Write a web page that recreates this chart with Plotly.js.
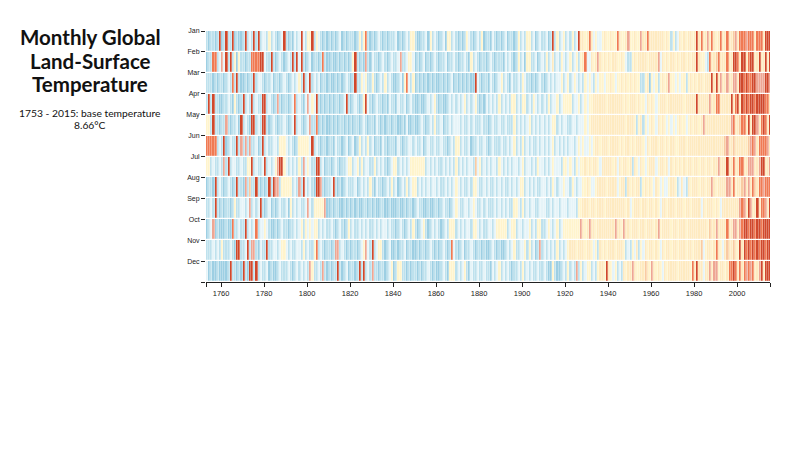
<!DOCTYPE html>
<html><head><meta charset="utf-8">
<script src="https://cdn.plot.ly/plotly-3.0.1.min.js"></script>
<style>html,body{margin:0;padding:0;background:#fff}#c{width:800px;height:450px}</style></head>
<body><div id="c"></div>
<script>
const months=["Jan","Feb","Mar","Apr","May","Jun","Jul","Aug","Sep","Oct","Nov","Dec"];
const firstYear=1753, lastYear=2015;
const xTickYears=[1760,1780,1800,1820,1840,1860,1880,1900,1920,1940,1960,1980,2000];
// colour class read from each cell: 0 coolest ... 8 warmest
const jan=[1,0,1,1,0,1,8, 0,1,8,1,1,8,0,1,0,0, 1,8,1,2,1,8,1,8,1,2, 2,1,3,1,2,1,0,1,2,8, 1,0,1,0,2,1,2,8,2,1, 3,3,8,1,3,2,1,0,1,0, 1,0,1,0,1,2,0,1,0,1, 1,1,0,1,3,1,3,7,1,0, 1,0,1,2,1,0,1,0,1,1, 1,2,0,1,0,1,2,1,3,3, 1,0,0,1,1,2,0,3,1,2, 1,0,1,2,0,3,3,1,2,1, 0,1,0,1,3,2,1,0,1,2, 1,3,0,1,1,0,2,1,0,1, 0,1,2,0,1,1,0,1,3,1, 2,1,3,3,1,2,0,1,2,1, 1,2,0,1,8,1,3,1,2,3, 1,2,1,3,1,2,8,4,4,3, 4,7,4,2,3,2,2,3,4,3, 3,4,3,3,7,4,3,3,4,6, 3,3,4,3,3,6,4,4,7,4, 4,4,4,4,4,4,3,4,3,1, 3,1,2,4,3,4,3,4,4,3, 4,8,4,7,4,4,6,4,7,4, 3,4,7,4,4,7,4,4,5,6, 4,7,7,7,6,7,7,7,4,7, 7,7,4,8,8,8];
const feb=[0,1,1,7,7,1,2, 6,2,8,1,8,1,3,0,3,1, 1,0,1,1,7,7,7,7,8,8, 2,1,1,8,1,0,1,2,1,0, 1,2,1,8,1,8,2,8,1,0, 1,2,0,1,1,0,1,7,1,0, 0,1,0,0,1,0,1,0,1,0, 1,3,8,1,0,1,0,6,1,0, 2,1,1,0,1,2,1,0,1,2, 1,1,2,6,1,1,2,3,3,2, 0,1,0,1,2,0,1,0,1,2, 1,0,1,1,2,0,1,1,2,1, 0,1,1,2,1,0,3,1,2,1, 0,1,1,0,1,2,1,0,1,1, 1,0,2,1,2,1,0,1,3,1, 2,0,3,3,1,1,2,0,1,2, 1,3,1,2,4,1,2,1,3,2, 1,2,3,1,2,3,1,3,4,7, 2,2,4,3,4,6,4,3,4,3, 4,3,4,4,3,3,4,3,2,1, 1,3,4,3,4,4,4,4,3,4, 4,4,4,6,2,4,3,4,3,4, 4,3,4,3,4,4,3,4,3,4, 4,8,4,3,3,2,1,7,4,4, 5,7,4,4,4,7,4,4,8,8, 7,4,8,8,4,7,8,8,4,4, 8,4,4,8,4,8];
const mar=[1,1,1,0,1,0,1, 1,0,1,2,1,7,1,8,1,0, 0,1,0,1,1,8,1,2,2,1, 0,1,1,2,0,1,1,0,1,2, 1,0,1,2,1,2,3,1,8,1, 2,8,1,2,1,2,0,1,1,0, 1,0,0,1,0,1,0,1,2,1, 0,1,8,1,1,3,2,3,1,1, 3,1,0,1,2,1,3,1,2,1, 0,0,1,2,0,3,7,2,1,3, 0,1,0,1,0,1,0,1,0,1, 0,0,1,0,1,0,1,2,0,1, 0,1,0,1,0,1,0,0,8,2, 1,0,1,1,0,2,1,0,1,2, 3,1,2,1,0,2,1,1,2,1, 3,2,1,1,0,1,0,1,2,1, 0,1,2,1,2,1,2,2,3,1, 2,3,1,2,3,2,1,2,1,3, 2,3,2,1,3,2,3,3,2,3, 3,4,3,2,3,3,4,3,4,3, 4,3,4,3,3,1,1,3,4,0, 3,2,3,1,3,4,3,4,6,3, 3,2,3,2,3,3,1,3,4,3, 4,3,4,4,3,4,4,4,8,4, 8,4,6,4,4,6,4,4,6,6, 4,8,8,7,8,7,7,8,8,6, 6,6,6,8,8,6];
const apr=[1,8,1,8,1,1,0, 0,1,1,2,1,0,3,1,0,1, 8,1,2,1,8,1,2,1,1,8, 8,1,2,1,0,1,6,1,0,1, 1,0,1,2,7,1,2,1,0,2, 6,2,3,2,8,1,0,1,0,1, 0,1,0,1,1,0,1,2,8,1, 0,1,2,1,0,1,3,8,2,1, 0,1,2,1,1,0,1,0,2,1, 1,0,2,1,1,2,0,1,2,1, 0,0,1,0,0,1,2,1,2,3, 1,0,1,0,0,1,2,1,2,1, 2,1,2,3,1,2,1,2,3,1, 0,1,0,2,1,2,1,2,1,3, 1,2,1,2,1,3,3,1,2,1, 3,3,1,2,1,3,2,1,2,1, 2,1,3,1,2,2,3,1,2,3, 3,3,3,1,2,2,3,1,2,3, 2,3,3,4,4,4,4,4,4,3, 4,4,4,4,4,4,4,3,4,3, 4,4,4,3,4,3,3,2,4,3, 4,3,2,3,4,4,4,3,4,4, 4,4,4,4,4,3,4,4,4,4, 4,8,4,4,4,4,4,6,4,4, 7,7,4,4,4,4,4,8,4,7, 8,4,8,7,8,7,8,8,7,8, 8,8,8,7,7,4];
const may=[3,3,1,8,1,1,0, 1,1,6,1,0,1,1,2,0,8, 1,2,1,0,8,8,1,2,1,8, 8,1,0,1,2,1,0,1,1,2, 1,0,1,2,8,1,2,1,0,1, 2,6,1,1,7,0,1,0,1,0, 0,1,0,1,0,1,1,0,1,0, 1,0,1,1,0,1,2,1,0,1, 1,0,2,1,0,1,0,1,1,0, 1,1,0,0,1,0,2,0,0,1, 0,0,1,2,1,0,1,2,1,3, 1,1,2,0,1,1,2,1,2,2, 2,1,2,1,1,2,1,2,1,1, 1,2,1,1,0,1,2,1,1,2, 1,1,2,1,1,1,3,1,2,1, 2,1,2,3,1,2,1,2,1,2, 1,2,1,2,3,3,1,2,1,2, 2,1,1,2,2,1,2,2,2,3, 2,3,4,4,4,4,4,4,4,4, 4,4,4,4,4,4,4,4,3,4, 4,4,3,1,3,4,1,3,2,3, 4,3,2,4,3,4,3,2,3,2, 3,2,3,4,3,3,2,3,4,3, 4,4,3,4,6,4,4,4,4,4, 4,4,4,4,4,4,4,6,7,4, 4,5,7,7,4,8,4,8,8,6, 4,7,8,7,4,8];
const jun=[7,7,7,7,7,1,2, 1,8,0,1,2,1,1,8,1,6, 1,6,1,6,1,1,2,0,1,8, 1,2,1,1,2,2,1,3,3,3, 2,1,2,1,0,1,3,3,3,3, 3,2,8,1,2,1,0,1,1,0, 1,1,0,2,1,1,0,1,2,0, 1,2,0,1,3,1,2,1,3,1, 2,0,1,1,0,2,1,0,1,1, 1,0,2,1,0,1,1,2,2,1, 2,1,1,2,0,1,2,1,1,2, 1,1,2,1,1,0,1,2,1,3, 3,1,2,1,1,2,0,1,1,2, 1,1,2,1,0,1,2,1,1,1, 2,1,1,2,1,2,3,1,2,1, 3,1,2,1,2,1,1,2,1,2, 1,2,1,2,3,1,2,1,2,1, 2,1,2,2,1,2,3,2,3,2, 2,3,2,3,4,4,3,4,4,4, 3,4,4,4,4,3,4,3,4,4, 3,4,3,4,4,4,3,2,4,3, 4,4,4,3,4,4,3,4,3,4, 4,3,3,4,4,4,3,4,4,4, 4,4,4,4,4,4,4,4,4,4, 4,4,4,4,5,6,4,4,5,4, 4,4,4,4,4,5,6,7,6,4, 7,7,7,7,6,4];
const jul=[3,3,1,2,1,1,2, 1,6,1,8,1,2,2,1,1,2, 1,1,3,3,8,1,2,1,1,2, 8,1,2,1,2,3,6,8,8,3, 2,1,2,1,2,1,3,1,6,2, 3,2,1,1,8,8,1,2,0,1, 1,0,1,2,1,0,1,1,2,3, 3,1,2,3,1,3,1,2,2,1, 1,3,1,2,1,2,1,0,1,2, 3,3,1,2,1,2,1,2,3,3, 3,3,3,3,3,1,2,1,2,1, 2,1,1,2,1,2,1,2,1,3, 1,2,1,2,1,2,2,1,5,2, 3,1,2,1,2,1,2,2,1,3, 2,1,2,1,2,1,2,2,1,2, 3,1,2,2,1,2,1,3,2,2, 1,2,1,2,3,2,2,2,1,3, 3,2,3,2,1,3,2,3,3,4, 3,4,3,4,4,3,2,4,4,4, 4,4,3,4,2,4,3,4,4,3, 4,1,4,3,2,4,3,2,3,4, 4,4,2,3,4,4,3,4,2,4, 3,4,3,4,3,4,3,4,4,3, 4,4,3,4,4,3,4,4,3,4, 4,6,4,4,4,8,4,4,7,4, 4,7,7,4,4,6,6,6,4,4, 6,8,8,4,4,6];
const aug=[0,1,1,0,8,1,2, 1,0,1,2,1,0,1,8,1,1, 0,6,1,5,1,1,8,1,0,1, 0,1,8,1,8,6,6,1,3,3, 3,3,3,1,2,1,6,1,8,2, 1,2,1,0,8,8,6,1,0,1, 1,2,8,1,0,1,0,1,2,1, 1,1,2,0,1,2,1,2,1,3, 1,0,2,1,1,0,1,2,1,3, 1,2,0,1,2,1,3,1,2,3, 3,1,2,1,2,1,2,1,2,2, 1,2,1,1,2,1,2,1,2,3, 2,1,2,1,1,2,1,3,3,2, 1,1,2,1,2,1,1,2,1,2, 1,2,1,1,2,1,2,1,2,3, 3,1,2,1,2,1,2,1,1,2, 2,1,2,1,3,2,1,2,2,3, 2,2,1,3,2,1,2,2,3,3, 4,3,2,2,3,4,4,4,4,3, 4,4,4,4,2,3,4,4,1,4, 3,4,3,4,4,1,3,4,3,4, 3,2,4,3,2,3,2,2,3,4, 4,3,1,2,4,2,1,4,3,4, 4,4,3,4,4,3,4,4,6,4, 3,4,4,4,4,6,6,4,7,3, 4,4,5,6,4,6,4,7,5,4, 7,7,6,7,7,7];
const sep=[1,1,2,1,8,1,0, 1,0,1,1,0,1,3,1,1,2, 2,1,2,6,1,2,1,2,8,1, 0,1,2,0,1,0,1,2,1,1, 2,0,3,1,2,1,2,1,1,2, 6,2,1,3,3,3,3,3,6,0, 0,1,0,1,1,0,0,1,0,1, 0,1,0,1,0,0,1,1,0,1, 0,1,0,0,1,1,0,0,1,0, 0,0,1,0,0,1,0,1,1,0, 1,2,1,1,0,0,1,0,0,1, 1,0,1,2,1,1,0,1,2,3, 2,1,1,2,2,1,2,3,2,1, 1,2,1,2,1,1,1,2,1,2, 1,2,1,2,1,1,3,3,2,1, 3,1,2,1,2,2,1,1,2,2, 2,1,1,2,1,2,2,1,2,2, 2,1,2,2,2,1,3,3,4,4, 4,3,4,4,3,4,4,4,3,4, 4,4,4,4,4,4,4,4,3,4, 2,3,4,4,4,3,4,4,3,4, 4,3,4,3,2,4,4,3,4,4, 4,3,4,4,4,3,4,4,3,4, 4,4,4,2,4,3,4,4,4,3, 4,3,2,4,4,4,4,4,4,4, 4,6,7,6,4,8,6,4,4,8, 4,7,7,6,4,8];
const oct=[0,1,2,6,0,1,0, 0,0,1,0,0,7,1,1,2,1, 1,8,1,2,1,2,7,1,2,2, 3,2,1,0,0,1,0,1,2,1, 1,0,1,1,2,1,2,3,1,3, 2,3,2,3,3,1,2,1,2,1, 1,2,1,0,1,2,1,0,1,3, 1,2,1,1,2,1,2,1,2,1, 1,2,1,2,1,2,2,1,2,1, 1,0,1,2,1,0,1,2,1,3, 1,0,1,2,3,1,0,1,2,1, 2,1,0,1,2,1,3,3,3,1, 2,1,2,1,2,2,1,3,3,2, 1,2,1,1,2,2,1,2,3,3, 3,3,3,1,2,3,3,1,2,2, 1,2,2,3,1,2,1,3,3,1, 1,2,3,2,1,2,3,1,2,3, 3,3,3,3,3,3,3,6,4,3, 4,6,4,4,3,4,4,4,4,4, 4,4,4,6,4,4,3,6,4,4, 3,4,4,4,3,4,4,3,4,4, 4,3,4,6,3,4,4,4,4,3, 4,4,3,4,4,4,3,4,4,4, 4,4,4,4,4,4,3,5,4,4, 6,4,4,4,4,7,4,4,6,6, 4,6,7,8,8,7,8,8,7,8, 8,7,8,8,8,8];
const nov=[1,1,1,2,1,2,1, 3,1,1,1,2,1,0,8,8,1, 1,2,8,1,6,6,1,0,2,1, 1,8,1,1,2,2,1,2,3,3, 2,1,2,1,1,2,2,1,3,1, 2,1,1,3,7,1,2,1,0,1, 1,0,1,6,6,1,2,1,0,1, 0,1,1,0,1,2,3,6,2,1, 8,1,2,3,3,1,0,1,2,0, 0,1,0,1,1,2,0,1,1,0, 0,1,0,1,1,0,1,2,1,0, 1,0,1,2,1,0,1,7,2,1, 0,1,2,0,1,1,2,1,0,1, 1,0,1,0,0,1,2,1,0,1, 0,0,1,2,1,2,3,1,1,2, 2,3,1,3,1,2,0,1,6,1, 2,1,2,1,2,1,3,1,2,1, 2,3,4,4,4,3,4,4,4,3, 4,4,3,2,3,1,4,3,4,3, 4,4,4,3,4,4,4,3,1,2, 1,3,2,4,1,3,2,4,3,4, 4,3,4,3,2,4,3,4,4,3, 4,4,3,4,4,4,3,4,4,3, 4,4,4,5,2,3,4,4,3,4, 7,4,3,2,4,5,4,4,5,4, 3,8,4,8,7,8,7,8,7,8, 7,8,8,7,8,8];
const dec=[2,0,1,0,0,1,0, 0,0,0,1,8,1,1,0,1,0, 8,1,0,8,8,1,8,1,2,1, 1,2,0,1,0,0,1,2,1,1, 1,2,1,0,1,2,1,2,1,2, 1,6,3,1,1,2,1,6,1,0, 1,0,1,1,8,1,0,1,2,0, 1,1,0,1,8,1,8,1,2,1, 6,1,1,0,1,1,0,1,2,3, 0,1,3,3,1,1,0,1,0,1, 1,0,1,0,1,1,2,1,0,1, 0,0,1,2,1,0,3,3,3,1, 2,1,2,3,1,0,2,1,1,2, 1,1,2,1,1,0,2,1,2,3, 1,2,1,2,1,0,1,1,2,1, 3,1,2,1,2,1,1,2,1,1, 2,1,0,0,3,1,0,0,1,2, 1,3,1,2,1,6,1,3,1,2, 3,3,1,2,1,3,4,4,3,8, 4,3,2,3,1,2,1,4,3,4, 4,6,4,3,3,4,4,5,4,3, 6,4,3,4,3,2,4,3,4,4, 4,4,3,4,4,4,4,4,3,7, 4,8,4,4,2,4,4,6,4,6, 6,3,4,4,3,4,7,7,8,7, 4,7,4,7,6,7,6,7,4,4, 6,8,4,8,8,8];
const palette=["#9dcfe3","#bee1ed","#e6f4f8","#fff4cc","#feeac0","#f9cba2","#eea693","#f07a53","#d0482c"];

const rows=[jan,feb,mar,apr,may,jun,jul,aug,sep,oct,nov,dec];
const years=jan.map((_,i)=>firstYear+i+0.5);
const n=palette.length;
const colorscale=[];
palette.forEach((c,i)=>{colorscale.push([i/n,c]);colorscale.push([(i+1)/n,c]);});
const F='"Liberation Sans",Arial,sans-serif';
const T='Lato,"Open Sans",sans-serif';
function note(text,y,size,weight){
  return {text:text,xref:'paper',yref:'paper',x:(90-206)/(770-206),xanchor:'center',
    y:(282-y)/(282-31),yanchor:'middle',showarrow:false,align:'center',
    font:{family:T,size:size,color:'#111',weight:weight||400}};
}
Plotly.newPlot('c',[{
  type:'heatmap',x:years,y:months.map((_,i)=>i+0.5),z:rows,
  zmin:0,zmax:n,colorscale:colorscale,showscale:false,xgap:0.3,ygap:1.2,hoverongaps:false
}],{
  width:800,height:450,paper_bgcolor:'#fff',plot_bgcolor:'#fff',
  margin:{l:206,r:30,t:31,b:168},
  showlegend:false,
  xaxis:{range:[firstYear,lastYear+0.3],tickmode:'array',
    tickvals:[firstYear].concat(xTickYears,[lastYear+0.3]),
    ticktext:[''].concat(xTickYears.map(String),['']),
    ticks:'outside',ticklen:4,tickwidth:1,tickcolor:'#222',showgrid:false,zeroline:false,
    showline:true,linecolor:'#222',linewidth:1,tickfont:{family:F,size:7.5,color:'#222'}},
  yaxis:{range:[12,0],tickmode:'array',tickvals:months.map((_,i)=>i).concat([12]),
    ticktext:months.concat(['']),ticks:'outside',ticklen:4,tickwidth:1,tickcolor:'#222',
    showgrid:false,zeroline:false,showline:false,tickfont:{family:F,size:7,color:'#222'}},
  annotations:[
    note('Monthly Global',37,20.5,700),note('Land-Surface',61,20.5,700),note('Temperature',84,20.5,700),
    note('1753 - 2015: base temperature',113,10.3),note('8.66°C',125,10.3)
  ]
},{displayModeBar:false,responsive:false});
</script></body></html>
